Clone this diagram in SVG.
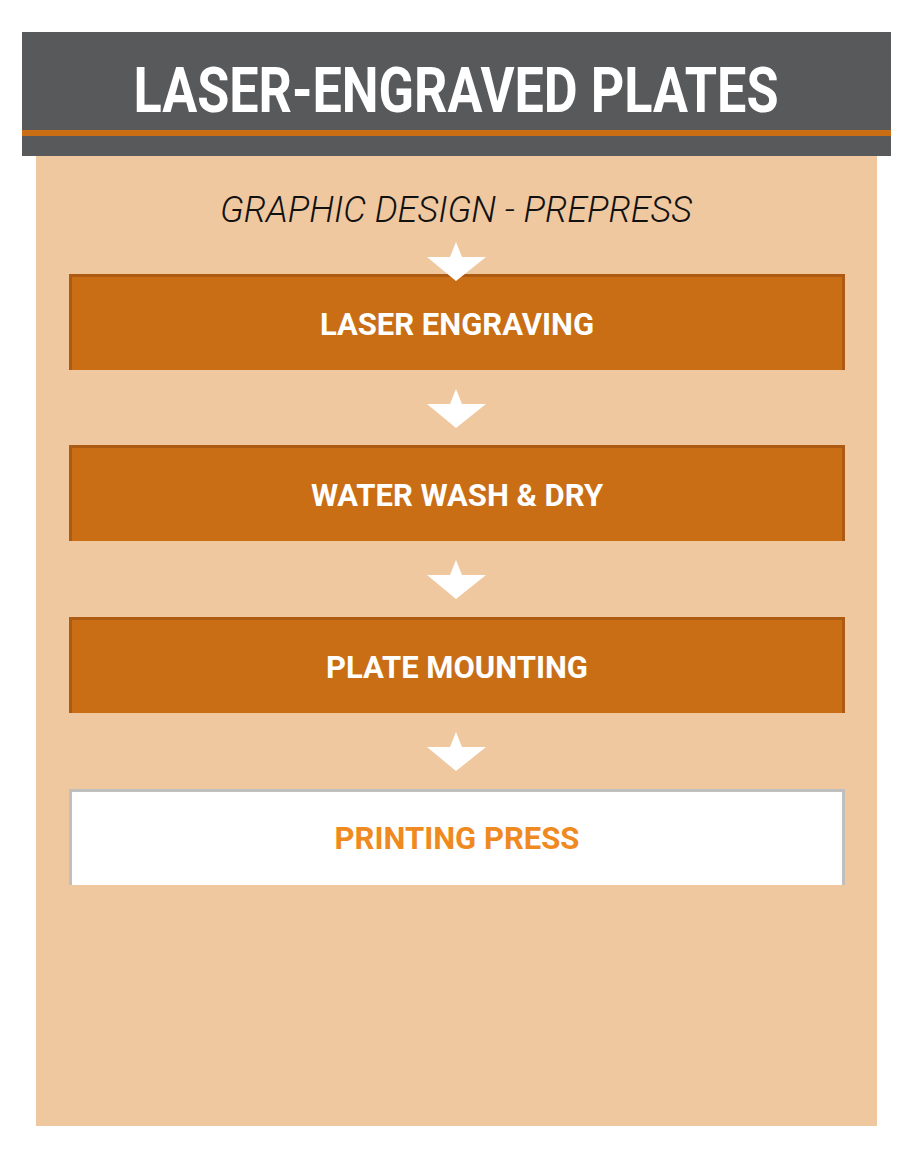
<svg xmlns="http://www.w3.org/2000/svg" width="913" height="1156" viewBox="0 0 913 1156">
<style>
.step{fill:#c96e15}
.edge{fill:none;stroke:#ad5a13;stroke-width:3}
.lbl{font-family:Roboto,"Liberation Sans",sans-serif;font-weight:bold;font-size:31px;fill:#ffffff;text-anchor:middle}
.arrow{fill:#ffffff}
</style>
<defs>
<polygon id="arr" points="0,0 6,15 30,15 0,39 -29,15 -6,15"/>
</defs>
<rect x="0" y="0" width="913" height="1156" fill="#ffffff"/>
<rect x="36" y="150" width="841" height="976" fill="#efc8a0"/>
<g id="header">
<rect x="22" y="32" width="869" height="124" fill="#58595b"/>
<rect x="22" y="130" width="869" height="6" fill="#c96e15"/>
<text x="456" y="112" font-family="Roboto,'Liberation Sans',sans-serif" font-weight="bold" font-size="63" fill="#ffffff" text-anchor="middle" textLength="645" lengthAdjust="spacingAndGlyphs">LASER-ENGRAVED PLATES</text>
</g>
<g id="start">
<text x="456" y="222" font-family="Roboto,'Liberation Sans',sans-serif" font-weight="300" font-style="italic" font-size="36" fill="#111111" text-anchor="middle">GRAPHIC DESIGN - PREPRESS</text>
</g>
<g id="step1">
<rect class="step" x="69" y="274" width="776" height="96"/>
<path class="edge" d="M70.5,370 V275.5 H843.5 V370"/>
<text class="lbl" x="457" y="335">LASER ENGRAVING</text>
</g>
<g id="step2">
<rect class="step" x="69" y="445" width="776" height="96"/>
<path class="edge" d="M70.5,541 V446.5 H843.5 V541"/>
<text class="lbl" x="457" y="506">WATER WASH &amp; DRY</text>
</g>
<g id="step3">
<rect class="step" x="69" y="617" width="776" height="96"/>
<path class="edge" d="M70.5,713 V618.5 H843.5 V713"/>
<text class="lbl" x="457" y="678">PLATE MOUNTING</text>
</g>
<g id="step4">
<rect x="69" y="789" width="776" height="96" fill="#ffffff"/>
<path d="M70.5,885 V790.5 H843.5 V885" fill="none" stroke="#bfbfbf" stroke-width="3"/>
<text class="lbl" x="457" y="849" style="fill:#ef8a22">PRINTING PRESS</text>
</g>
<g id="connectors">
<use href="#arr" class="arrow" x="456" y="242"/>
<use href="#arr" class="arrow" x="456" y="389"/>
<use href="#arr" class="arrow" x="456" y="560"/>
<use href="#arr" class="arrow" x="456" y="732"/>
</g>
</svg>
